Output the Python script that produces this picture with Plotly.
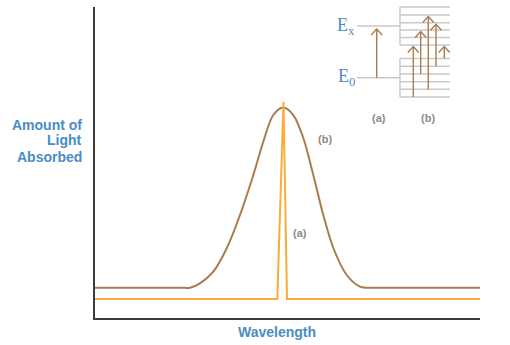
import plotly.graph_objects as go

# Absorption spectra (arbitrary units, wavelength 0-100)
band_x = [0, 22.0, 24.68, 27.27, 30.73, 34.21, 37.66, 41.12, 43.71, 46.31, 48.91,
          51.51, 54.11, 56.70, 59.30, 61.90, 65.38, 68.83, 70.65, 73.0, 100]
band_y = [9.74, 9.74, 9.74, 11.16, 14.89, 22.41, 33.12, 45.98, 56.69, 65.27, 67.68,
          65.27, 57.88, 45.98, 33.12, 22.51, 13.83, 10.07, 9.74, 9.74, 9.74]

line_x = [0, 47.35, 48.96, 49.87, 100]
line_y = [6.1, 6.1, 69.5, 6.1, 6.1]

# Energy-level diagram (inset units)
ground_level = 52.3
excited_level = 104.0
upper_band = [123.0, 115.0, 107.3, 100.0, 92.5, 85.0]
lower_band = [71.5, 63.7, 56.0, 48.3, 40.7, 33.0]
# transition in (a): (x position, from level, to level)
atom_transition = (46.7, ground_level, excited_level)
# transitions in (b)
band_transitions = [(83.3, 33.0, 85.0), (90.7, 56.0, 100.0), (98.3, 40.7, 115.0),
                    (106.0, 63.7, 107.3), (114.3, 71.5, 85.0)]

BROWN = "#a97c50"
ORANGE = "#fbab3c"
BLUE = "#4a8cc4"
GREY_TXT = "#8c8c8c"
LEVEL = "#c9c9c9"

fig = go.Figure()
fig.add_trace(go.Scatter(x=band_x, y=band_y, mode="lines",
                         line=dict(color=BROWN, width=2, shape="spline", smoothing=0.9),
                         hoverinfo="skip"))
fig.add_trace(go.Scatter(x=line_x, y=line_y, mode="lines",
                         line=dict(color=ORANGE, width=2), hoverinfo="skip"))

# level lines for the inset
lx, ly = [], []
def level(x0, x1, y):
    lx.extend([x0, x1, None])
    ly.extend([y, y, None])

level(27, 70, excited_level)
level(27, 70, ground_level)
for band in (upper_band, lower_band):
    lx.extend([70, 70, None])
    ly.extend([max(band), min(band), None])
    for lv in band:
        level(70, 120, lv)
fig.add_trace(go.Scatter(x=lx, y=ly, mode="lines", xaxis="x2", yaxis="y2",
                         line=dict(color=LEVEL, width=1.5), hoverinfo="skip"))

# transition arrows: shaft plus open chevron head, stopping just below the target level
ax_, ay_ = [], []
HEAD_W, HEAD_H = 5.5, 6.0
def arrow(x, lo, hi, gap):
    tip = hi - gap
    ax_.extend([x, x, None, x - HEAD_W, x, x + HEAD_W, None])
    ay_.extend([lo, tip, None, tip - HEAD_H, tip, tip - HEAD_H, None])

arrow(*atom_transition, 3)
for x, lo, hi in band_transitions:
    arrow(x, lo, hi, 1.5)
fig.add_trace(go.Scatter(x=ax_, y=ay_, mode="lines", xaxis="x2", yaxis="y2",
                         line=dict(color=BROWN, width=1.4), hoverinfo="skip"))

annotations = []
lab = dict(family="Liberation Sans", size=11, color=GREY_TXT)
annotations += [
    dict(x=59.7, y=57.6, xref="x", yref="y", text="<b>(b)</b>", showarrow=False, font=lab),
    dict(x=53.2, y=27.3, xref="x", yref="y", text="<b>(a)</b>", showarrow=False, font=lab),
    dict(x=49, y=12, xref="x2", yref="y2", text="<b>(a)</b>", showarrow=False, font=lab),
    dict(x=98, y=12, xref="x2", yref="y2", text="<b>(b)</b>", showarrow=False, font=lab),
]

serif = dict(family="Liberation Serif", size=18, color=BLUE)
annotations += [
    dict(x=27, y=excited_level, xref="x2", yref="y2", text="E<sub>x</sub>",
         xanchor="right", yanchor="middle", showarrow=False, font=serif),
    dict(x=27, y=ground_level, xref="x2", yref="y2", text="E<sub>0</sub>",
         xanchor="right", yanchor="middle", showarrow=False, font=serif),
]

title_font = dict(family="Liberation Sans", size=14, color=BLUE)
for txt, yy in (("Amount of", 0.607), ("Light", 0.5595), ("Absorbed", 0.5075)):
    annotations.append(dict(x=-0.029, y=yy, xref="paper", yref="paper", text=f"<b>{txt}</b>",
                            xanchor="right", yanchor="middle", showarrow=False, font=title_font))
annotations.append(dict(x=0.473, y=-0.044, xref="paper", yref="paper", text="<b>Wavelength</b>",
                        xanchor="center", yanchor="middle", showarrow=False, font=title_font))

fig.update_layout(
    width=510, height=345,
    margin=dict(l=95, r=30, t=0, b=27),
    paper_bgcolor="white", plot_bgcolor="white",
    showlegend=False,
    xaxis=dict(range=[0, 100], showline=True, linecolor="#3c3c3c", linewidth=2,
               showticklabels=False, ticks="", showgrid=False, zeroline=False),
    yaxis=dict(range=[0, 100], domain=[0, 0.978], showline=True, linecolor="#3c3c3c",
               linewidth=2, showticklabels=False, ticks="", showgrid=False, zeroline=False),
    xaxis2=dict(domain=[0.6104, 0.948], range=[0, 130], anchor="y2", visible=False),
    yaxis2=dict(domain=[0.5912, 1.0], range=[0, 130], anchor="x2", visible=False),
    annotations=annotations,
)

fig.write_html("out.html")
